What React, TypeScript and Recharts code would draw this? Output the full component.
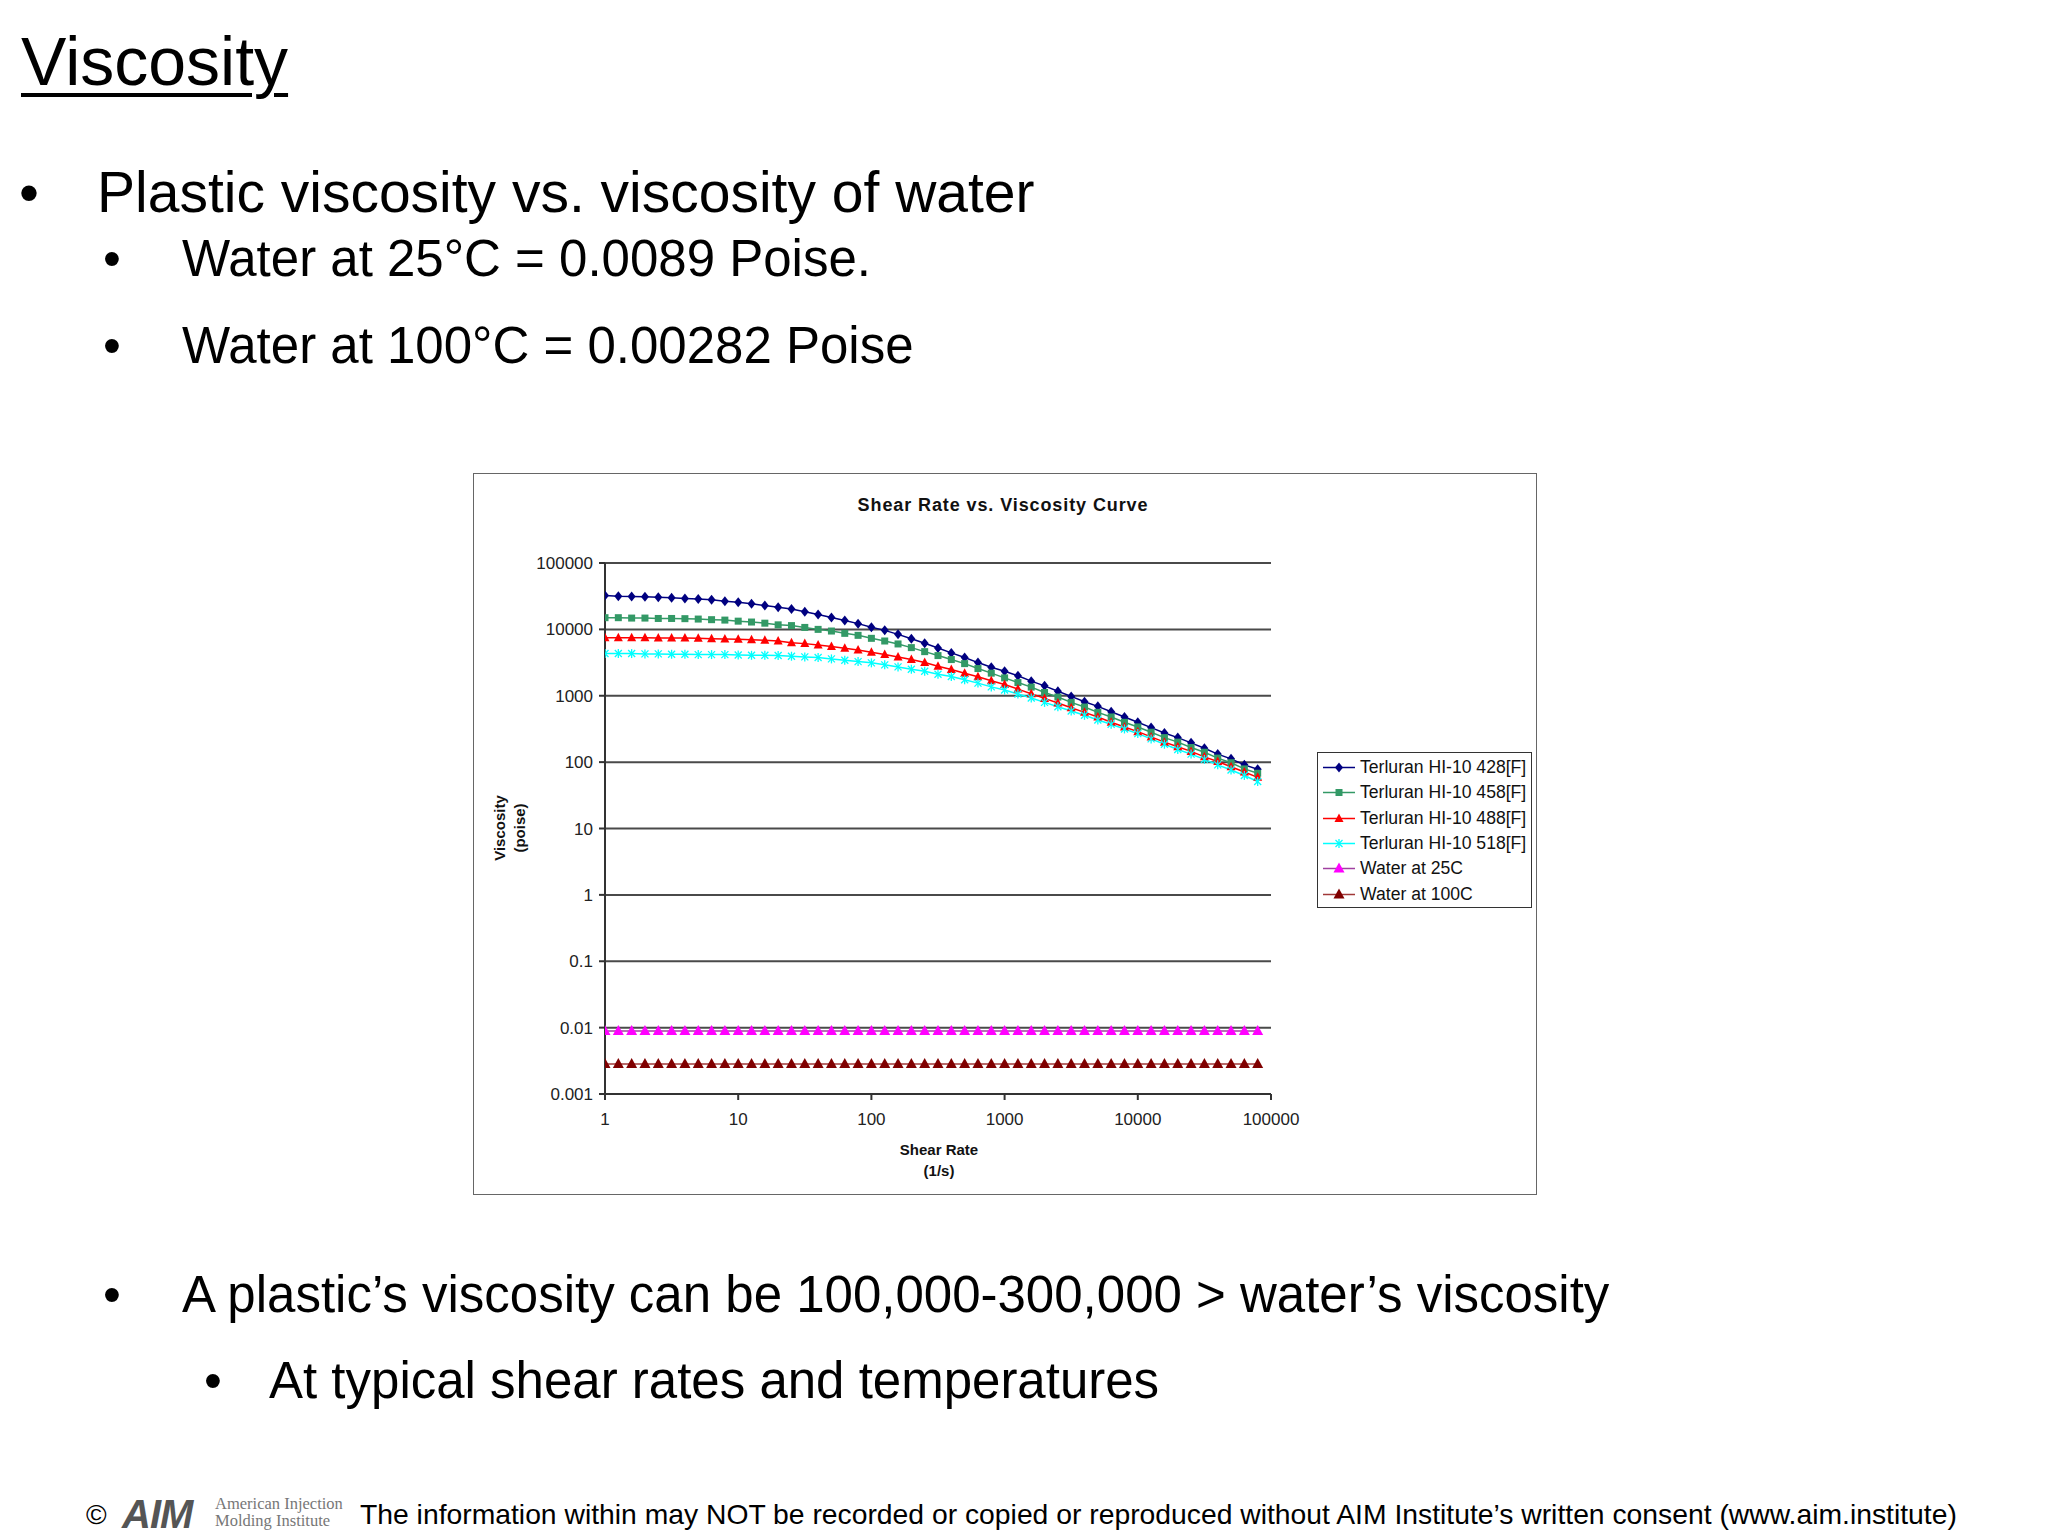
import React from 'react'
import { LineChart, Line, XAxis, YAxis, CartesianGrid, Legend } from 'recharts'

// shear rate (1/s), ten points per decade
const shearRates = [
  1, 1.259, 1.585, 1.995, 2.512, 3.162, 3.981, 5.012, 6.31, 7.943,
  10, 12.59, 15.85, 19.95, 25.12, 31.62, 39.81, 50.12, 63.1, 79.43,
  100, 125.9, 158.5, 199.5, 251.2, 316.2, 398.1, 501.2, 631, 794.3,
  1000, 1259, 1585, 1995, 2512, 3162, 3981, 5012, 6310, 7943,
  10000, 12589, 15849, 19953, 25119, 31623, 39811, 50119, 63096, 79433,
]

// viscosity (poise)
const hi428 = [
  32400, 31600, 31300, 30900, 30500, 29900, 29200, 28800, 27900, 26600,
  25700, 24300, 22900, 21600, 20200, 18400, 16800, 15100, 13600, 12200,
  10800, 9660, 8410, 7240, 6170, 5250, 4420, 3760, 3160, 2690,
  2340, 2000, 1660, 1410, 1170, 977, 813, 692, 575, 479,
  398, 331, 275, 234, 195, 162, 132, 112, 91, 78,
]
const hi458 = [
  15000, 15000, 14800, 14800, 14600, 14600, 14500, 14300, 14000, 13800,
  13300, 12900, 12400, 11700, 11400, 10700, 10000, 9440, 8710, 8130,
  7330, 6680, 6030, 5310, 4620, 4030, 3510, 3050, 2570, 2190,
  1860, 1580, 1350, 1120, 955, 794, 676, 562, 479, 398,
  339, 282, 234, 200, 166, 141, 115, 98, 79, 68,
]
const hi488 = [
  7500, 7500, 7500, 7500, 7410, 7410, 7410, 7330, 7240, 7160,
  7080, 7000, 6840, 6680, 6310, 6100, 5820, 5500, 5190, 4900,
  4520, 4170, 3850, 3510, 3160, 2790, 2480, 2190, 1930, 1680,
  1480, 1260, 1070, 912, 776, 661, 562, 479, 398, 339,
  288, 240, 200, 170, 145, 120, 102, 85, 71, 59,
]
const hi518 = [
  4320, 4320, 4320, 4270, 4270, 4220, 4220, 4170, 4170, 4170,
  4120, 4070, 4070, 4030, 3940, 3850, 3760, 3590, 3430, 3270,
  3130, 2920, 2720, 2510, 2340, 2110, 1950, 1740, 1550, 1360,
  1220, 1060, 923, 794, 684, 589, 507, 432, 372, 316,
  269, 224, 186, 155, 132, 110, 91, 76, 63, 51,
]
const water25 = 0.0089
const water100 = 0.00282

const xTicks = [1, 10, 100, 1000, 10000, 100000]
const yTicks = [0.001, 0.01, 0.1, 1, 10, 100, 1000, 10000, 100000]

const data = shearRates.map((rate, i) => ({
  rate,
  t428: hi428[i],
  t458: hi458[i],
  t488: hi488[i],
  t518: hi518[i],
  w25: water25,
  w100: water100,
}))

type Shape = 'diamond' | 'square' | 'triangle' | 'star' | 'bigTriangle'

const series: { key: string; name: string; color: string; line: string; shape: Shape }[] = [
  { key: 't428', name: 'Terluran HI-10 428[F]', color: '#000080', line: '#000080', shape: 'diamond' },
  { key: 't458', name: 'Terluran HI-10 458[F]', color: '#339966', line: '#339966', shape: 'square' },
  { key: 't488', name: 'Terluran HI-10 488[F]', color: '#FF0000', line: '#FF0000', shape: 'triangle' },
  { key: 't518', name: 'Terluran HI-10 518[F]', color: '#00FFFF', line: '#00FFFF', shape: 'star' },
  { key: 'w25', name: 'Water at 25C', color: '#FF00FF', line: '#A040A0', shape: 'bigTriangle' },
  { key: 'w100', name: 'Water at 100C', color: '#800000', line: '#A03838', shape: 'bigTriangle' },
]

const FONT = '"Liberation Sans", Arial, sans-serif'

function Marker({ cx, cy, shape, color }: { cx?: number; cy?: number; shape: Shape; color: string }) {
  if (cx == null || cy == null) return null
  switch (shape) {
    case 'diamond':
      return <polygon points={`${cx},${cy - 5} ${cx + 4},${cy} ${cx},${cy + 5} ${cx - 4},${cy}`} fill={color} />
    case 'square':
      return <rect x={cx - 3.5} y={cy - 3.5} width={7} height={7} fill={color} />
    case 'triangle':
      return <polygon points={`${cx},${cy - 5} ${cx + 4.5},${cy + 3.5} ${cx - 4.5},${cy + 3.5}`} fill={color} />
    case 'star':
      return (
        <g stroke={color} strokeWidth={1.3}>
          <line x1={cx - 3.5} y1={cy - 3.5} x2={cx + 3.5} y2={cy + 3.5} />
          <line x1={cx - 3.5} y1={cy + 3.5} x2={cx + 3.5} y2={cy - 3.5} />
          <line x1={cx} y1={cy - 4.5} x2={cx} y2={cy + 4.5} />
        </g>
      )
    default:
      return <polygon points={`${cx},${cy - 6} ${cx + 5.5},${cy + 4} ${cx - 5.5},${cy + 4}`} fill={color} />
  }
}

function LegendBox() {
  return (
    <div style={{ border: '1.5px solid #333', background: '#fff', width: 215, boxSizing: 'border-box', fontFamily: FONT, paddingTop: 2 }}>
      {series.map(s => (
        <div key={s.key} style={{ display: 'flex', alignItems: 'center', height: 25.3 }}>
          <svg width={42} height={25} style={{ flex: 'none' }}>
            <line x1={5} y1={12.5} x2={37} y2={12.5} stroke={s.line} strokeWidth={1.5} />
            <Marker cx={21} cy={12.5} shape={s.shape} color={s.color} />
          </svg>
          <span style={{ fontSize: 17.6, color: '#111', whiteSpace: 'nowrap' }}>{s.name}</span>
        </div>
      ))}
    </div>
  )
}

function ViscosityChart() {
  return (
    <div style={{ position: 'absolute', left: 473, top: 473, width: 1064, height: 722 }}>
      <div style={{ position: 'absolute', inset: 0, border: '1.5px solid #666', boxSizing: 'border-box' }} />
      <div style={{ position: 'absolute', left: 0, width: 1064, top: 22, textAlign: 'center', fontFamily: FONT, fontWeight: 'bold', fontSize: 18, letterSpacing: 0.9, color: '#111' }}>
        <span style={{ position: 'relative', left: -2 }}>Shear Rate vs. Viscosity Curve</span>
      </div>
      <div style={{ position: 'absolute', left: -23, top: 335, width: 120, height: 40, transform: 'rotate(-90deg)', textAlign: 'center', fontFamily: FONT, fontWeight: 'bold', fontSize: 15, lineHeight: '20px', color: '#111' }}>
        Viscosity<br />(poise)
      </div>
      <div style={{ position: 'absolute', left: 406, top: 666, width: 120, textAlign: 'center', fontFamily: FONT, fontWeight: 'bold', fontSize: 15, lineHeight: '21px', color: '#111' }}>
        Shear Rate<br />(1/s)
      </div>
      <LineChart width={1064} height={722} data={data} margin={{ top: 90, right: 266, bottom: 51, left: 62 }}>
        <CartesianGrid vertical={false} stroke="#4a4a4a" strokeWidth={2} />
        <XAxis
          dataKey="rate"
          type="number"
          scale="log"
          domain={[1, 100000]}
          ticks={xTicks}
          interval={0}
          allowDataOverflow
          height={50}
          tickSize={6}
          tickMargin={13}
          tickFormatter={(v: number) => String(v)}
          tick={{ fontSize: 17, fill: '#222', fontFamily: FONT }}
          tickLine={{ stroke: '#333', strokeWidth: 2 }}
          axisLine={{ stroke: '#333', strokeWidth: 2 }}
        />
        <YAxis
          type="number"
          scale="log"
          domain={[0.001, 100000]}
          ticks={yTicks}
          interval={0}
          allowDataOverflow
          width={70}
          tickSize={6}
          tickMargin={6}
          tickFormatter={(v: number) => String(v)}
          tick={{ fontSize: 17, fill: '#222', fontFamily: FONT }}
          tickLine={{ stroke: '#333', strokeWidth: 2 }}
          axisLine={{ stroke: '#333', strokeWidth: 2 }}
        />
        <Legend
          layout="vertical"
          align="center"
          verticalAlign="middle"
          wrapperStyle={{ left: 844, top: 279, width: 215 }}
          content={() => <LegendBox />}
        />
        {series.map(s => (
          <Line
            key={s.key}
            dataKey={s.key}
            name={s.name}
            type="linear"
            stroke={s.line}
            strokeWidth={1.5}
            isAnimationActive={false}
            dot={(p: any) => <Marker key={`${s.key}-${p.index}`} cx={p.cx} cy={p.cy} shape={s.shape} color={s.color} />}
            activeDot={false}
          />
        ))}
      </LineChart>
    </div>
  )
}

const textStyle: React.CSSProperties = { position: 'absolute', fontFamily: FONT, lineHeight: 1, color: '#000', whiteSpace: 'nowrap' }

export default function App() {
  return (
    <div style={{ position: 'absolute', left: 0, top: 0, width: 2048, height: 1536, background: '#fff', overflow: 'hidden' }}>
      <div style={{ ...textStyle, left: 21, top: 27, fontSize: 68, textDecoration: 'underline', textDecorationThickness: 4, textUnderlineOffset: 8 }}>Viscosity</div>

      <div style={{ ...textStyle, left: 19, top: 164, fontSize: 57 }}>•</div>
      <div style={{ ...textStyle, left: 97, top: 164, fontSize: 57 }}>Plastic viscosity vs. viscosity of water</div>

      <div style={{ ...textStyle, left: 103, top: 233, fontSize: 51 }}>•</div>
      <div style={{ ...textStyle, left: 182, top: 233, fontSize: 51 }}>Water at 25°C = 0.0089 Poise.</div>
      <div style={{ ...textStyle, left: 103, top: 320, fontSize: 51 }}>•</div>
      <div style={{ ...textStyle, left: 182, top: 320, fontSize: 51 }}>Water at 100°C = 0.00282 Poise</div>

      <ViscosityChart />

      <div style={{ ...textStyle, left: 103, top: 1269, fontSize: 51 }}>•</div>
      <div style={{ ...textStyle, left: 182, top: 1269, fontSize: 51 }}>A plastic’s viscosity can be 100,000-300,000 &gt; water’s viscosity</div>
      <div style={{ ...textStyle, left: 204, top: 1355, fontSize: 51 }}>•</div>
      <div style={{ ...textStyle, left: 269, top: 1355, fontSize: 51 }}>At typical shear rates and temperatures</div>

      <div style={{ ...textStyle, left: 86, top: 1501, fontSize: 28 }}>©</div>
      <div style={{ ...textStyle, left: 122, top: 1494, fontSize: 40, fontWeight: 900, fontStyle: 'italic', color: '#555', letterSpacing: -1 }}>AIM</div>
      <div style={{ ...textStyle, left: 215, top: 1495, fontSize: 16.5, lineHeight: '17px', fontFamily: '"Liberation Serif", serif', color: '#777' }}>
        American Injection<br />Molding Institute
      </div>
      <div style={{ ...textStyle, left: 360, top: 1500, fontSize: 28.3 }}>
        The information within may NOT be recorded or copied or reproduced without AIM Institute’s written consent (www.aim.institute)
      </div>
    </div>
  )
}
